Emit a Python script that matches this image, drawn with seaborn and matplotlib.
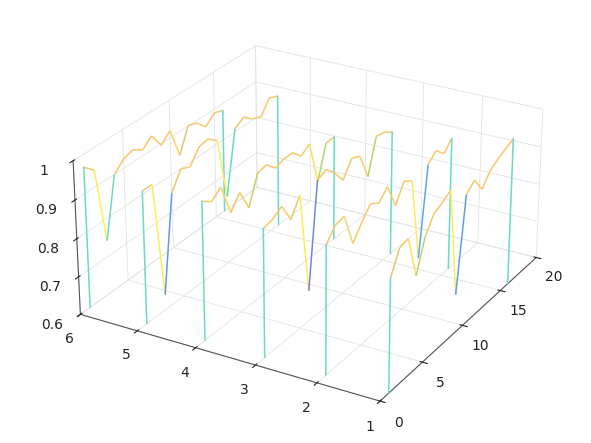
import matplotlib
matplotlib.use('Agg')
import matplotlib.pyplot as plt
import numpy as np
import seaborn as sns
from mpl_toolkits.mplot3d.art3d import Line3DCollection

sns.set_style('white')

x_vals = np.arange(1, 17)
rows = [6, 5, 4, 3, 2, 1]
z_row6 = [0.967, 0.944, 0.742, 0.899, 0.924, 0.932, 0.915, 0.937, 0.896, 0.919, 0.837, 0.901, 0.893, 0.867, 0.890, 0.881]
z_row5 = [0.945, 0.945, 0.640, 0.890, 0.935, 0.925, 0.960, 0.965, 0.945, 0.780, 0.945, 0.960, 0.940, 0.930, 0.965, 0.955]
z_row4 = [0.958, 0.940, 0.960, 0.878, 0.913, 0.857, 0.930, 0.935, 0.910, 0.918, 0.918, 0.893, 0.910, 0.792, 0.880, 0.881]
z_row3 = [0.930, 0.935, 0.950, 0.900, 0.945, 0.680, 0.950, 0.960, 0.935, 0.900, 0.940, 0.930, 0.860, 0.950, 0.945, 0.930]
z_row2 = [0.930, 0.960, 0.965, 0.880, 0.915, 0.945, 0.930, 0.955, 0.890, 0.935, 0.920, 0.700, 0.930, 0.950, 0.925, 0.950]
z_row1 = [0.890, 0.945, 0.950, 0.840, 0.920, 0.960, 0.970, 0.985, 0.700, 0.940, 0.960, 0.920, 0.950, 0.965, 0.975, 0.985]
z_rows = [z_row6, z_row5, z_row4, z_row3, z_row2, z_row1]

cmap = sns.blend_palette(['#7b74d6', '#5aa9ee', '#6bd8c8', '#a8d56f', '#f5c86a', '#f5c86a', '#f8ef5a'], as_cmap=True)
teal = '#6bd8c8'

fig = plt.figure(figsize=(5.91, 4.43), dpi=100)
ax = fig.add_subplot(111, projection='3d', computed_zorder=False)
zmin = 0.6
for yv, zs in zip(rows, z_rows):
    zs = np.array(zs)
    pts = np.column_stack([x_vals, np.full(len(x_vals), yv), zs])
    segs = [pts[i:i + 2] for i in range(len(pts) - 1)]
    d = np.diff(zs)
    vals = np.where(d > 0, 0.76 - d * 2.6, 0.76 - d * 1.6)
    vals = np.clip(vals, 0, 1)
    lc = Line3DCollection(segs, colors=cmap(vals), linewidths=1.1, zorder=5, clip_on=False)
    ax.add_collection3d(lc)
    ax.plot([x_vals[0], x_vals[0]], [yv, yv], [zmin, zs[0]], color=teal, lw=1.1, zorder=5, clip_on=False)
    ax.plot([x_vals[-1], x_vals[-1]], [yv, yv], [zmin, zs[-1]], color=teal, lw=1.1, zorder=5, clip_on=False)

ax.set_xlim(0, 20)
ax.set_ylim(1, 6)
ax.set_zlim(0.6, 1)
ax.set_xticks([0, 5, 10, 15, 20])
ax.set_yticks([1, 2, 3, 4, 5, 6])
ax.set_zticks([0.6, 0.7, 0.8, 0.9, 1])
ax.set_zticklabels(['0.6', '0.7', '0.8', '0.9', '1'])
ax.view_init(elev=26, azim=-150)
for axis in (ax.xaxis, ax.yaxis, ax.zaxis):
    axis.set_pane_color((1, 1, 1, 0))
    axis.pane.set_edgecolor('#d9d9d9')
    axis._axinfo['grid']['color'] = '#e3e3e3'
    axis._axinfo['grid']['linewidth'] = 0.6
    axis.line.set_color('#555555')
ax.tick_params(labelsize=10, colors='#222222', pad=2)
ax.set_box_aspect((1.25, 1.25, 0.62), zoom=1.09)
fig.subplots_adjust(left=0.02, right=1.02, bottom=0.0, top=1.02)
fig.savefig('out.png', dpi=100)
